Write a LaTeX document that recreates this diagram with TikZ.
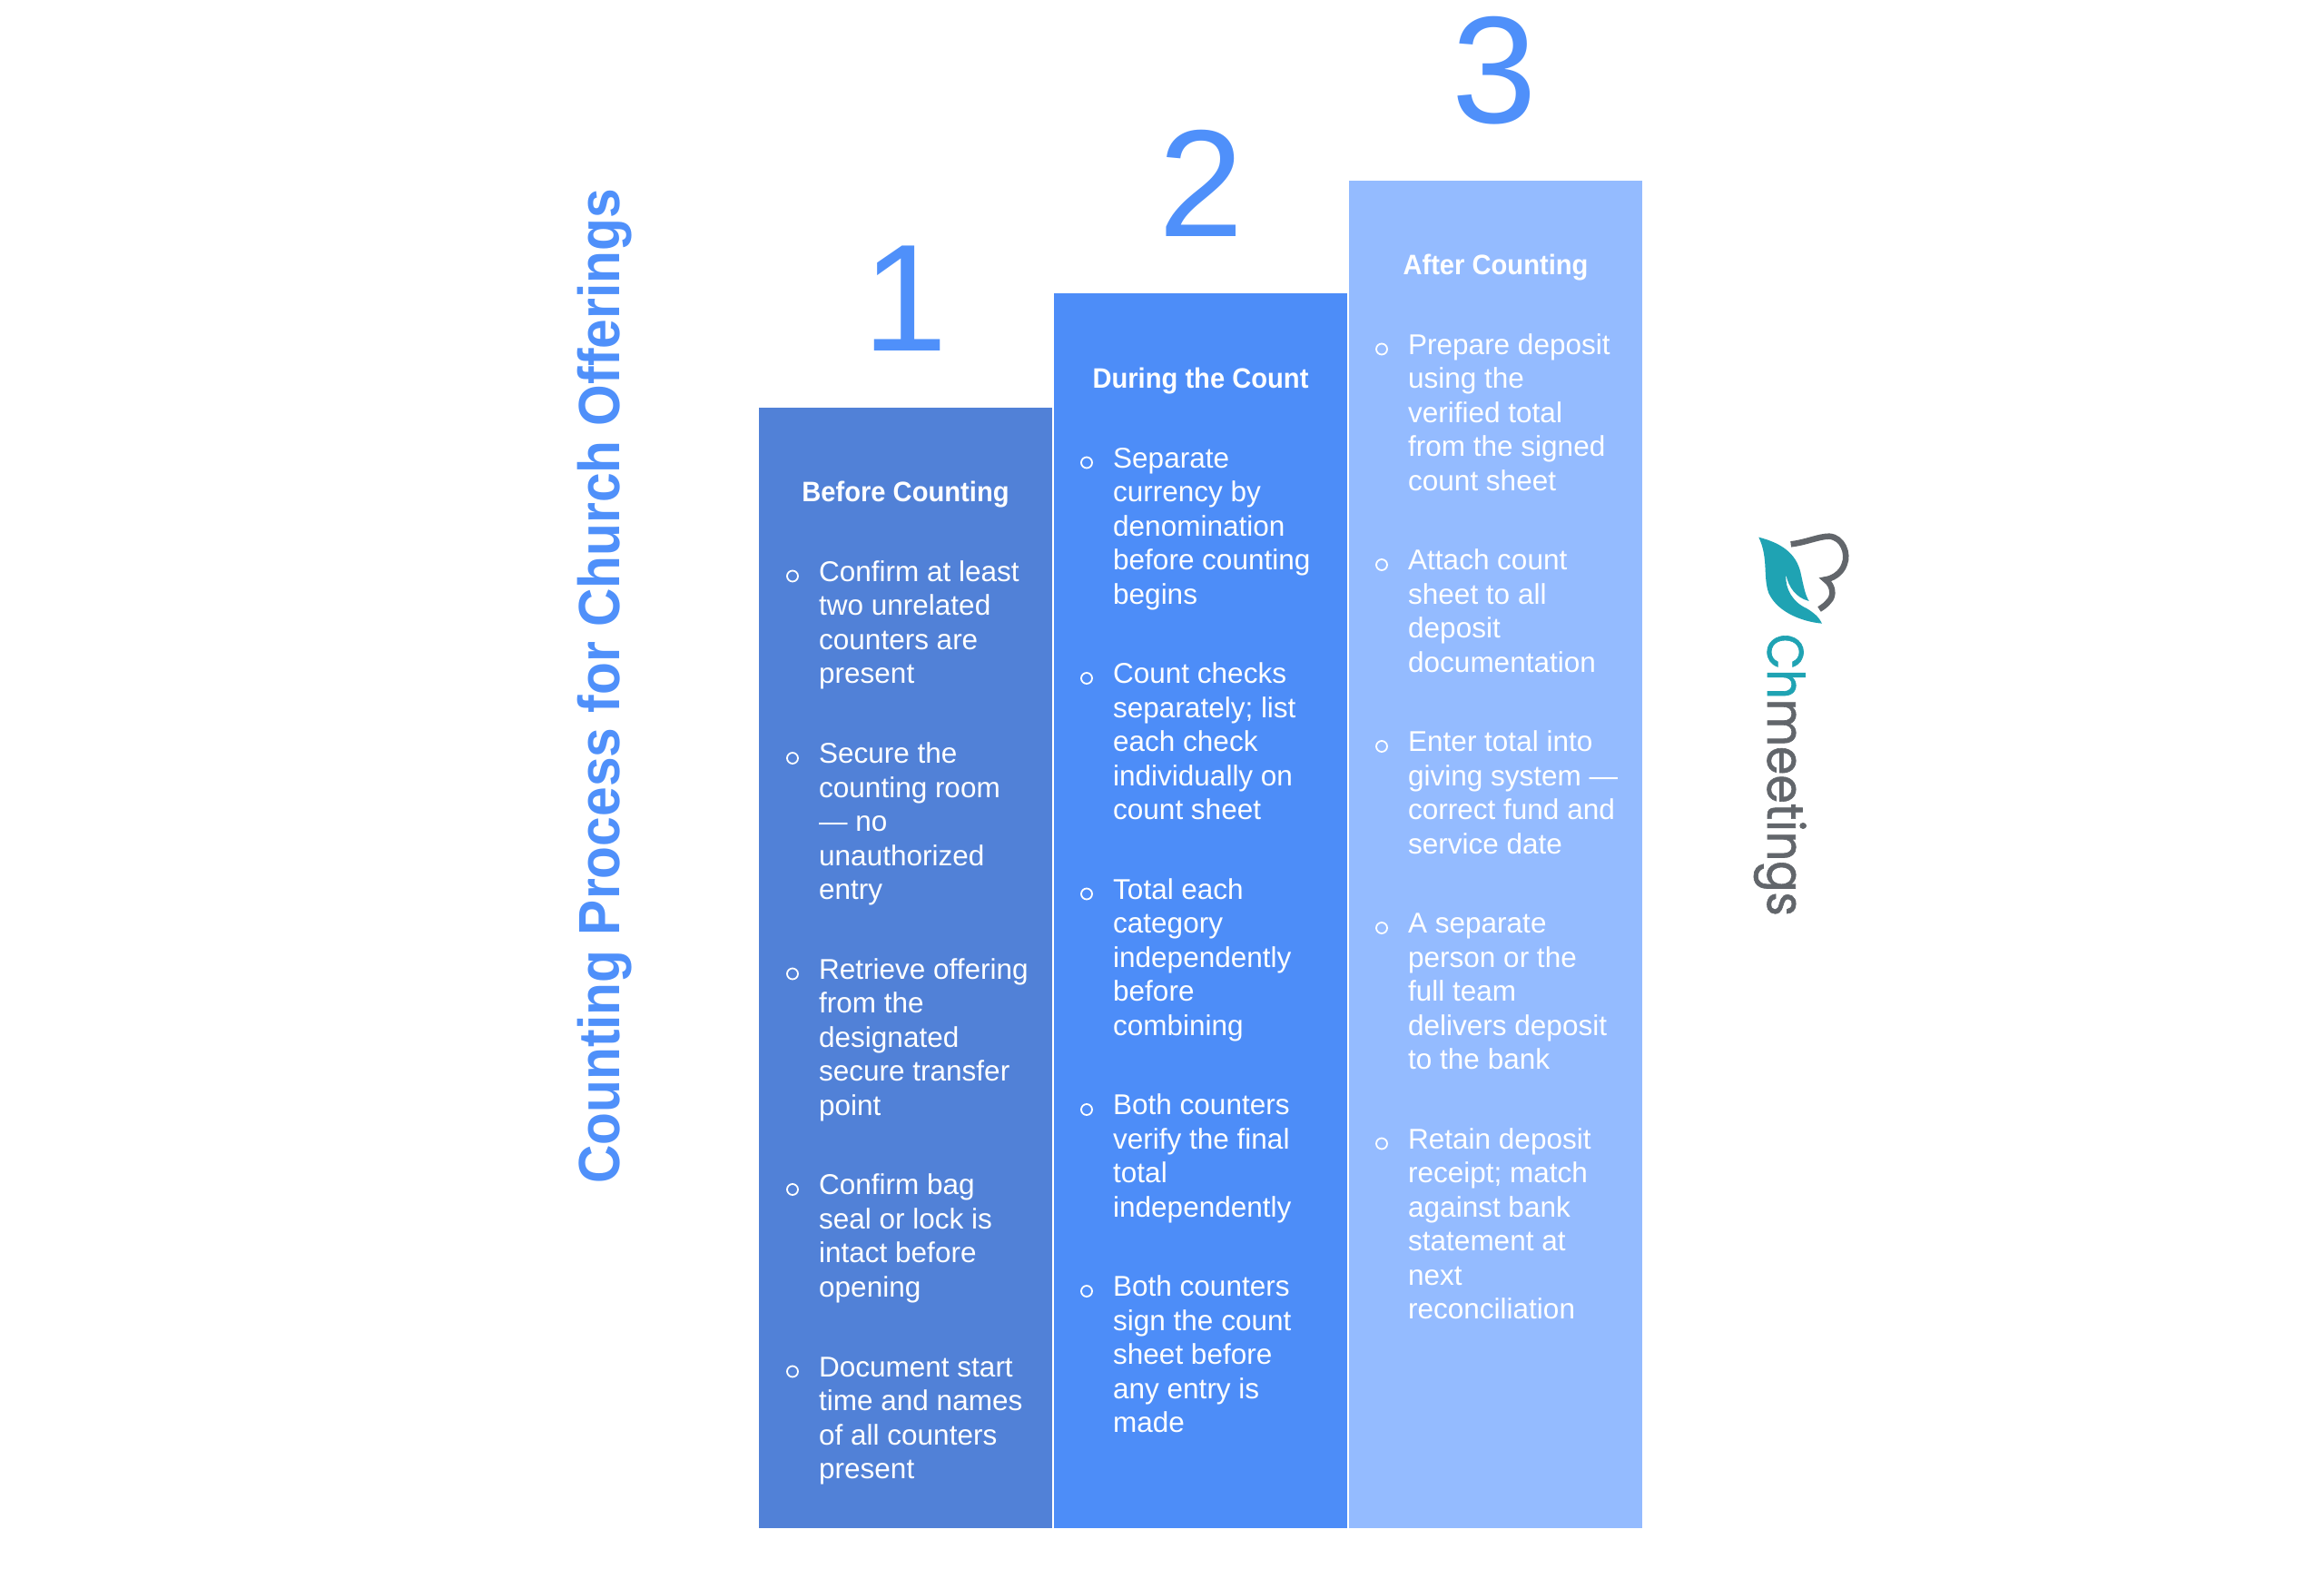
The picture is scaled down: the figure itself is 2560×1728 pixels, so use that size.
\documentclass[tikz,border=0pt]{standalone}
\usepackage{fontspec}
\setmainfont{Liberation Sans}
\newfontfamily\logofont[FakeBold=1.2]{Poppins}
\definecolor{colA}{HTML}{5181D7}
\definecolor{colB}{HTML}{4D8DF8}
\definecolor{colC}{HTML}{94BBFF}
\definecolor{inkB}{HTML}{4F90FA}
\definecolor{teal}{HTML}{1FA3B3}
\definecolor{slate}{HTML}{62666B}
\tikzset{
  column/.style={inner sep=0,outer sep=0,minimum width=323pt,anchor=north west},
  heading/.style={inner sep=0,anchor=base,text=white,font=\fontsize{31}{37.5}\selectfont\bfseries},
  item/.style={inner sep=0,anchor=base west,align=left,text=white,font=\fontsize{31.5}{37.5}\selectfont},
  dot/.style={circle,draw=white,line width=1.8pt,minimum size=12pt,inner sep=0},
  bignum/.style={inner sep=0,anchor=base,text=inkB,font=\fontsize{168}{172}\selectfont},
}
\newcommand{\bul}[5]{% name, x, first baseline, number of lines, text
  \node[dot] (d#1) at ({#2-29},{#3-4.5}) {};
  \node[item] (t#1) at ({#2},{#3+1+37.5*(#4-1)}) {#5};
}
\begin{document}
\begin{tikzpicture}[x=1pt,y=-1pt]
\useasboundingbox (0,0) rectangle (2560,1728);
\fill[white] (0,0) rectangle (2560,1728);
\node[column,fill=colA,minimum height=1234pt] (c1) at (836,449) {};
\node[column,fill=colB,minimum height=1360pt] (c2) at (1161,323) {};
\node[column,fill=colC,minimum height=1484pt] (c3) at (1486,199) {};
\node[bignum] (n1) at (997,386) {1};
\node[bignum] (n2) at (1323,260.5) {2};
\node[bignum] (n3) at (1646,135.5) {3};
\node[heading] (h1) at (997.5,552.5) {\scalebox{.94}[1]{Before Counting}};
\node[heading] (h2) at (1322.5,427.5) {\scalebox{.94}[1]{During the Count}};
\node[heading] (h3) at (1647.5,303) {\scalebox{.94}[1]{After Counting}};
\bul{a}{902}{639}{4}{Confirm at least\\two unrelated\\counters are\\present}
\bul{b}{902}{839.5}{5}{Secure the\\counting room\\--- no\\unauthorized\\entry}
\bul{c}{902}{1077}{5}{Retrieve offering\\from the\\designated\\secure transfer\\point}
\bul{d}{902}{1314.5}{4}{Confirm bag\\seal or lock is\\intact before\\opening}
\bul{e}{902}{1515}{4}{Document start\\time and names\\of all counters\\present}
\bul{f}{1226}{514}{5}{Separate\\currency by\\denomination\\before counting\\begins}
\bul{g}{1226}{751.5}{5}{Count checks\\separately; list\\each check\\individually on\\count sheet}
\bul{h}{1226}{989}{5}{Total each\\category\\independently\\before\\combining}
\bul{i}{1226}{1226.5}{4}{Both counters\\verify the final\\total\\independently}
\bul{j}{1226}{1426.5}{5}{Both counters\\sign the count\\sheet before\\any entry is\\made}
\bul{k}{1551}{389}{5}{Prepare deposit\\using the\\verified total\\from the signed\\count sheet}
\bul{l}{1551}{626.5}{4}{Attach count\\sheet to all\\deposit\\documentation}
\bul{m}{1551}{826.5}{4}{Enter total into\\giving system ---\\correct fund and\\service date}
\bul{n}{1551}{1026.5}{5}{A separate\\person or the\\full team\\delivers deposit\\to the bank}
\bul{o}{1551}{1264}{6}{Retain deposit\\receipt; match\\against bank\\statement at\\next\\reconciliation}
\node[inner sep=0,anchor=base,rotate=90,text=inkB,font=\fontsize{64}{70}\selectfont\bfseries] (title) at (682,756) {\scalebox{.917}[1]{Counting Process for Church Offerings}};
\node[inner sep=0,anchor=base west,rotate=-90,text=slate,font=\logofont\fontsize{56}{60}\selectfont] (logoword) at (1947,698) {\scalebox{.905}[1]{\textcolor{teal}{Ch}meetings}};
\begin{scope}[shift={(1880,560)},x=0.3333pt,y=-0.3333pt]
\fill[teal] (172,95) .. controls (250,115) and (295,150) .. (310,210)
  .. controls (320,255) and (325,285) .. (338,306)
  .. controls (295,295) and (270,260) .. (262,218)
  .. controls (258,265) and (285,310) .. (330,330)
  .. controls (355,345) and (372,360) .. (381,380)
  .. controls (320,375) and (235,345) .. (205,280)
  .. controls (185,225) and (205,165) .. (172,95) -- cycle;
\draw[slate,line width=6.5pt] (278,118) .. controls (330,112) and (370,92) .. (405,92)
  .. controls (450,95) and (470,150) .. (455,185)
  .. controls (445,215) and (415,232) .. (392,235)
  .. controls (420,255) and (420,290) .. (405,305)
  .. controls (395,318) and (385,325) .. (372,333);
\end{scope}
\end{tikzpicture}
\end{document}
